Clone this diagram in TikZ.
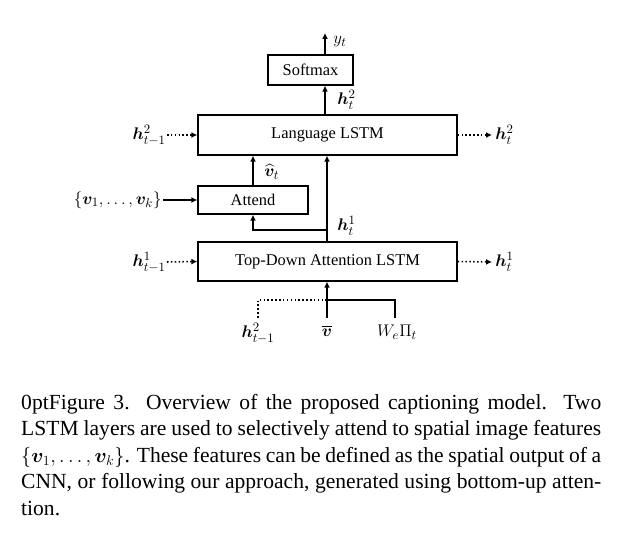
\documentclass[tikz,border=0pt]{standalone}
\usepackage{amsmath,bm}
\usepackage{fontspec}
\setmainfont{Liberation Serif}
\usetikzlibrary{arrows.meta}
\begin{document}
\begin{tikzpicture}[x=0.03cm,y=-0.03cm,
  box/.style={draw,line width=1.2pt,minimum height=0.9cm,inner sep=0pt,font=\fontsize{14}{16}\selectfont},
  arr/.style={line width=1.3pt,-{Latex[length=5pt,width=5pt]}},
  darr/.style={line width=1.3pt,dotted,-{Latex[length=5pt,width=5pt]}},
  lbl/.style={font=\fontsize{15}{17}\selectfont,inner sep=1pt}]
\useasboundingbox (0,0) rectangle (634,533);
\node[box,minimum width=85*0.03cm,minimum height=30*0.03cm] (soft) at (310.5,70) {Softmax};
\node[box,minimum width=259*0.03cm,minimum height=40*0.03cm] (lang) at (327.5,135) {Language LSTM};
\node[box,minimum width=110*0.03cm,minimum height=28*0.03cm] (att) at (253,200) {Attend};
\node[box,minimum width=259*0.03cm,minimum height=39*0.03cm] (td) at (327.5,261.5) {Top-Down Attention LSTM};
% top
\coordinate (yt) at (325,33);
\draw[arr] (soft.north -| yt) -- (yt);
\node[lbl,anchor=west] (ylab) at (332,42) {$y_t$};
\draw[arr] (lang.north -| yt) -- (soft.south -| yt);
\node[lbl,anchor=west] (h2a) at (336,100) {$\bm{h}_t^2$};
% language sides
\node[lbl,anchor=east] (hl2) at (167,135) {$\bm{h}_{t-1}^2$};
\draw[darr] (hl2.east) -- (lang.west);
\coordinate (lr) at (492,135);
\draw[darr] (lang.east) -- (lr);
\node[lbl,anchor=west] (hr2) at (494,135) {$\bm{h}_t^2$};
% attend
\draw[arr] (att.north) -- (att.north |- lang.south);
\node[lbl,anchor=west] (vhat) at (263,172) {$\widehat{\bm{v}}_t$};
\node[lbl,anchor=east] (vset) at (163,200) {$\{\bm{v}_1,\ldots,\bm{v}_k\}$};
\draw[arr] (vset.east) -- (att.west);
% td
\coordinate (c1) at (327,242);
\draw[arr] (c1) -- (c1 |- lang.south);
\draw[arr] (327,230) -- (253,230) -- (att.south);
\node[lbl,anchor=west] (h1a) at (336,226) {$\bm{h}_t^1$};
\node[lbl,anchor=east] (hl1) at (167,262) {$\bm{h}_{t-1}^1$};
\draw[darr] (hl1.east) -- (td.west);
\coordinate (rr) at (492,262);
\draw[darr] (td.east) -- (rr);
\node[lbl,anchor=west] (hr1) at (494,262) {$\bm{h}_t^1$};
% bottom
\node[lbl] (bh) at (258,333) {$\bm{h}_{t-1}^2$};
\node[lbl] (bv) at (327,331) {$\overline{\bm{v}}$};
\node[lbl] (bw) at (397,332) {$W_e\Pi_t$};
\draw[arr] (327,318) -- (td.south -| 327,0);
\draw[line width=1.3pt] (327,300) -- (395,300) -- (395,318);
\draw[line width=1.3pt,dotted] (327,300) -- (258,300) -- (258,318);
% caption
\node[anchor=north west,text width=17.4cm,align=justify,inner sep=0pt,
  font=\fontsize{18.4}{22.6}\selectfont\hyphenpenalty=10000\exhyphenpenalty=10000\frenchspacing] (cap) at (21,394)
{Figure 3. Overview of the proposed captioning model. Two LSTM layers are used to selectively attend to spatial image features $\{\bm{v}_1,\ldots,\bm{v}_k\}$. These features can be defined as the spatial output of a CNN, or following our approach, generated using bottom-up attention.};
\end{tikzpicture}
\end{document}
